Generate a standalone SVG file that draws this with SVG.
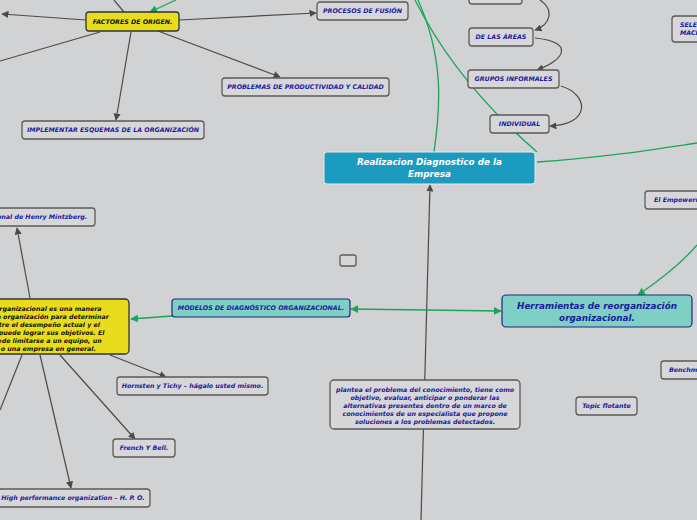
<svg xmlns="http://www.w3.org/2000/svg" width="697" height="520" viewBox="0 0 697 520">
<style>
.n{fill:#d7d7d9;stroke:#5a5a5a;stroke-width:1.3}
.y{fill:#e8dc1c;stroke:#333;stroke-width:1.3}
.t{font-family:"DejaVu Sans",sans-serif;font-weight:bold;font-style:italic;font-size:6.3px;fill:#1a1a9c;text-anchor:middle}
.tk{fill:#111}
.c{fill:none;stroke:#4a4a4a;stroke-width:1.2}
.g{fill:none;stroke:#1aa65a;stroke-width:1.3}
</style>
<defs>
<marker id="a" viewBox="0 0 10 10" refX="9" refY="5" markerWidth="6" markerHeight="6" orient="auto-start-reverse"><path d="M0,0L10,5L0,10z" fill="#4a4a4a"/></marker>
<marker id="ag" viewBox="0 0 10 10" refX="9" refY="5" markerWidth="6" markerHeight="6" orient="auto-start-reverse"><path d="M0,0L10,5L0,10z" fill="#1aa65a"/></marker>
</defs>
<rect width="697" height="520" fill="#d1d2d4"/>
<g id="connectors">
<path class="c" d="M86,20L2,14" marker-end="url(#a)"/>
<path class="c" d="M179,20L316,13" marker-end="url(#a)"/>
<path class="c" d="M158,31L280,77" marker-end="url(#a)"/>
<path class="c" d="M131,32L116,120" marker-end="url(#a)"/>
<path class="c" d="M100,32L0,61"/>
<path class="c" d="M114,0L124,12"/>
<path class="g" d="M176,0L150,12" marker-end="url(#ag)"/>
<path class="g" d="M434,152C440,110 445,60 418,0"/>
<path class="g" d="M537,152C500,120 450,70 415,0"/>
<path class="g" d="M537,162C600,158 650,150 697,143"/>
<path class="c" d="M421,520L430,185" marker-end="url(#a)"/>
<path class="g" d="M501,311L351,309" marker-start="url(#ag)" marker-end="url(#ag)"/>
<path class="g" d="M172,316L131,319" marker-end="url(#ag)"/>
<path class="g" d="M697,245C680,265 660,280 638,295" marker-end="url(#ag)"/>
<path class="c" d="M30,298L17,228" marker-end="url(#a)"/>
<path class="c" d="M110,355L166,377" marker-end="url(#a)"/>
<path class="c" d="M60,355L135,439" marker-end="url(#a)"/>
<path class="c" d="M40,355L71,488" marker-end="url(#a)"/>
<path class="c" d="M22,355L0,410"/>
<path class="c" d="M540,0C555,10 550,25 535,30" marker-end="url(#a)"/>
<path class="c" d="M535,38C575,42 565,60 537,70" marker-end="url(#a)"/>
<path class="c" d="M561,86C590,95 590,125 550,126" marker-end="url(#a)"/>
</g>
<g id="n1"><rect class="y" x="86" y="12" width="93" height="19" rx="3"/><text class="t tk" x="132.5" y="24">FACTORES DE ORIGEN.</text></g>
<g id="n2"><rect class="n" x="317" y="2" width="91" height="18" rx="3"/><text class="t" x="362.5" y="13">PROCESOS DE FUSIÓN</text></g>
<g id="n3"><rect class="n" x="222" y="78" width="167" height="18" rx="3"/><text class="t" x="305.5" y="89">PROBLEMAS DE PRODUCTIVIDAD Y CALIDAD</text></g>
<g id="n4"><rect class="n" x="22" y="121" width="182" height="18" rx="3"/><text class="t" x="113" y="132">IMPLEMENTAR ESQUEMAS DE LA ORGANIZACIÓN</text></g>
<g id="n5"><rect class="n" x="-10" y="208" width="105" height="18" rx="3"/><text class="t" x="41" y="219">ional de Henry Mintzberg.</text></g>
<g id="n6"><rect class="y" x="-30" y="299" width="159" height="55" rx="4"/>
<text class="t tk" x="45" y="311">o organizacional es una manera</text>
<text class="t tk" x="45" y="319">a una organización para determinar</text>
<text class="t tk" x="45" y="327">entre el desempeño actual y el</text>
<text class="t tk" x="45" y="335">mo puede lograr sus objetivos. El</text>
<text class="t tk" x="45" y="343">puede limitarse a un equipo, un</text>
<text class="t tk" x="45" y="351">o o una empresa en general.</text></g>
<g id="n7"><rect x="172" y="299" width="178" height="18" rx="3" fill="#7ecfc4" stroke="#1a2a80" stroke-width="1.2"/><text class="t" x="261" y="310">MODELOS DE DIAGNÓSTICO ORGANIZACIONAL.</text></g>
<g id="n8"><rect class="n" x="117" y="377" width="151" height="18" rx="3"/><text class="t" x="192.5" y="388">Hornsten y Tichy – hágalo usted mismo.</text></g>
<g id="n9"><rect class="n" x="113" y="439" width="62" height="18" rx="3"/><text class="t" x="144" y="450">French Y Bell.</text></g>
<g id="n10"><rect class="n" x="-10" y="489" width="160" height="18" rx="3"/><text class="t" x="73" y="500">High performance organization – H. P. O.</text></g>
<g id="center"><rect x="324" y="152" width="211" height="32" rx="3" fill="#1a9bbf" stroke="#e8e8e8" stroke-width="1"/>
<text class="t" x="429.5" y="165" style="fill:#fff;font-size:8.8px">Realizacion  Diagnostico de la</text>
<text class="t" x="429.5" y="177" style="fill:#fff;font-size:8.8px">Empresa</text></g>
<g id="n11"><rect class="n" x="469" y="-10" width="53" height="14" rx="3"/></g>
<g id="n12"><rect class="n" x="469" y="28" width="64" height="18" rx="3"/><text class="t" x="501" y="39">DE LAS ÁREAS</text></g>
<g id="n13"><rect class="n" x="468" y="70" width="91" height="18" rx="3"/><text class="t" x="513.5" y="81">GRUPOS INFORMALES</text></g>
<g id="n14"><rect class="n" x="490" y="115" width="59" height="18" rx="3"/><text class="t" x="519.5" y="126">INDIVIDUAL</text></g>
<g id="n15"><rect class="n" x="672" y="16" width="40" height="26" rx="3"/><text class="t" x="680" y="27" style="text-anchor:start">SELE</text><text class="t" x="680" y="35" style="text-anchor:start">MACH</text></g>
<g id="n16"><rect class="n" x="645" y="191" width="60" height="18" rx="3"/><text class="t" x="654" y="202" style="text-anchor:start">El Empowerm</text></g>
<g id="n17"><rect x="502" y="295" width="190" height="32" rx="4" fill="#7ecfc4" stroke="#1a2a80" stroke-width="1.2"/>
<text class="t" x="597" y="309" style="font-size:8.8px">Herramientas de reorganización</text>
<text class="t" x="597" y="321" style="font-size:8.8px">organizacional.</text></g>
<g id="n18"><rect class="n" x="661" y="361" width="50" height="18" rx="3"/><text class="t" x="669" y="372" style="text-anchor:start">Benchm</text></g>
<g id="n19"><rect class="n" x="576" y="397" width="61" height="18" rx="3"/><text class="t" x="606.5" y="408">Topic flotante</text></g>
<g id="n20"><rect class="n" x="330" y="380" width="190" height="49" rx="4"/>
<text class="t" x="425" y="392">plantea el problema del conocimiento, tiene como</text>
<text class="t" x="425" y="400">objetivo, evaluar, anticipar o ponderar las</text>
<text class="t" x="425" y="408">alternativas presentes dentro de un marco de</text>
<text class="t" x="425" y="416">conocimientos de un especialista que propone</text>
<text class="t" x="425" y="424">soluciones a los problemas detectados.</text></g>
<g id="n21"><rect class="n" x="340" y="255" width="16" height="11" rx="2"/></g>
</svg>
